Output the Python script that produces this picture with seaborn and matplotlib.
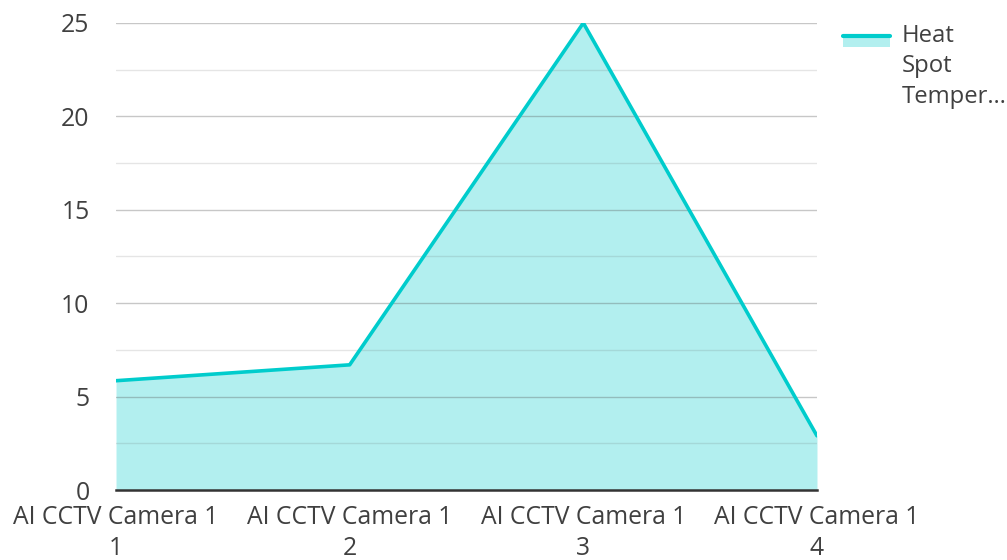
import numpy as np
import pandas as pd
import seaborn as sns
import matplotlib.pyplot as plt
from matplotlib.lines import Line2D
from matplotlib.patches import Rectangle

sns.set_theme(style="white")
plt.rcParams['font.family'] = ['Open Sans', 'DejaVu Sans']

cameras = ["AI CCTV Camera 1\n1", "AI CCTV Camera 1\n2", "AI CCTV Camera 1\n3", "AI CCTV Camera 1\n4"]
temps = [5.85, 6.7, 25.0, 2.9]
series_name = "Heat\nSpot\nTemper…"

line_color = "#00cccc"
fill_color = "#b2efef"
text_color = "#404040"

df = pd.DataFrame({"camera": cameras, "temp": temps})
pos = np.arange(len(cameras))

fig = plt.figure(figsize=(10.07, 5.6), dpi=100)
ax = fig.add_axes([0.1152, 0.125, 0.6961, 0.834])

ax.fill_between(pos, df["temp"], 0, color=fill_color, lw=0, zorder=1)

# gridlines over the area (major every 5, minor every 2.5)
for v in np.arange(2.5, 25.1, 2.5):
    major = (v % 5) == 0
    ax.axhline(v, color="#555555", alpha=0.33 if major else 0.15, lw=1.0, zorder=2)

sns.lineplot(x=pos, y=df["temp"], ax=ax, color=line_color, lw=2.6, zorder=3)

ax.set_xlim(0, len(cameras) - 1)
ax.set_ylim(0, 25)
ax.set_yticks([0, 5, 10, 15, 20, 25])
ax.set_xticks(pos)
ax.set_xticklabels(cameras, linespacing=1.3)
ax.tick_params(axis="both", length=0, labelsize=17.8, colors=text_color)
ax.tick_params(axis="x", pad=11)
ax.tick_params(axis="y", pad=19)
ax.set_xlabel("")
ax.set_ylabel("")

for s in ["top", "right", "left"]:
    ax.spines[s].set_visible(False)
ax.spines["bottom"].set_color("#333333")
ax.spines["bottom"].set_linewidth(1.8)
ax.spines["bottom"].set_zorder(4)

# legend drawn by hand at the upper right
W, H = fig.get_size_inches() * fig.dpi
fig.add_artist(Rectangle((843 / W, 1 - 47 / H), 47 / W, 11 / H, facecolor=fill_color,
                         edgecolor="none", transform=fig.transFigure))
fig.add_artist(Line2D([843 / W, 890 / W], [1 - 36 / H, 1 - 36 / H], color=line_color, lw=3,
                      transform=fig.transFigure))
fig.text(902 / W, 1 - 24 / H, series_name, fontsize=17.2, color=text_color,
         va="top", ha="left", linespacing=1.36)

fig.savefig("out.png", dpi=100)
